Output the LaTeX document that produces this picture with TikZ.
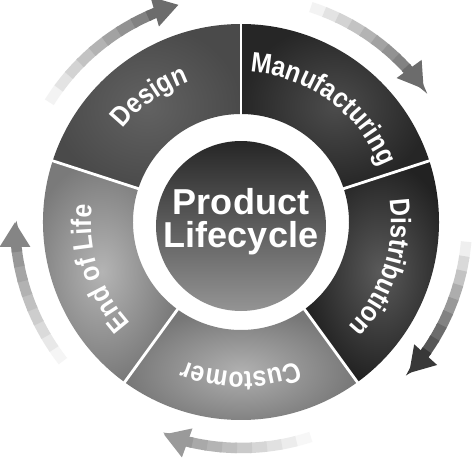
\documentclass[tikz,border=0pt]{standalone}
\usepackage{fontspec}
\setmainfont{Liberation Sans}
\newfontfamily\ringfont{Liberation Sans}[FakeStretch=0.88]
\usetikzlibrary{arrows.meta,decorations.text}

\definecolor{designin}{HTML}{626262}
\definecolor{designout}{HTML}{4A4A4A}
\definecolor{manufin}{HTML}{4C4C4C}
\definecolor{manufout}{HTML}{262626}
\definecolor{distrin}{HTML}{5A5A5A}
\definecolor{distrout}{HTML}{222222}
\definecolor{custin}{HTML}{B0B0B0}
\definecolor{custout}{HTML}{777777}
\definecolor{eolin}{HTML}{B4B4B4}
\definecolor{eolout}{HTML}{7A7A7A}
\definecolor{arrowmid}{HTML}{6C6C6C}
\definecolor{arrowdark}{HTML}{383838}
\definecolor{arrowlight}{HTML}{9A9A9A}
\definecolor{arrowleft}{HTML}{858585}

% one part of the ring: start angle, end angle, inner colour, outer colour
\newcommand{\ringpart}[4]{%
  \path[inner color=#3, outer color=#4] (#1:108) arc[start angle=#1, end angle=#2, radius=108]
    -- (#2:198) arc[start angle=#2, end angle=#1, radius=198] -- cycle;
}
% label running clockwise along the ring
\newcommand{\ringlabel}[3]{%
  \path[decorate, decoration={text along path, text align=center, text color=white,
      text={|\ringfont\bfseries\fontsize{16}{18}\selectfont|#3}}]
    (#1:150) arc[start angle=#1, end angle=#2, radius=150];
}
% faded circular arrow: tail angle, tip angle, colour
\newcommand{\cyclearrow}[3]{%
  \foreach \k in {0,...,7}{%
    \pgfmathsetmacro{\anga}{#1+(#2-#1)*\k/10}%
    \pgfmathsetmacro{\angb}{#1+(#2-#1)*(\k+1.15)/10}%
    \pgfmathtruncatemacro{\shade}{8+\k*11}%
    \draw[arrowshaft, draw=#3!\shade!white] (\anga:226) arc[start angle=\anga, end angle=\angb, radius=226];
  }
  \pgfmathsetmacro{\anga}{#1+(#2-#1)*0.8}%
  \draw[arrowshaft, draw=#3, -{Triangle[width=0.58cm, length=0.5cm]}]
    (\anga:226) arc[start angle=\anga, end angle=#2, radius=226];
}

\begin{document}
\begin{tikzpicture}[x=0.02cm, y=0.02cm,
    arrowshaft/.style={line width=0.21cm},
    divider/.style={white, line width=1.6pt},
    title/.style={text=white, font=\bfseries\fontsize{20.5}{18.7}\selectfont, align=center}]
  \fill[white] (-241,-252) rectangle (233,222);
  \useasboundingbox (-241,-252) rectangle (233,222);

  % ring
  \ringpart{162}{90}{designin}{designout}
  \ringpart{90}{18}{manufin}{manufout}
  \ringpart{18}{-54}{distrin}{distrout}
  \ringpart{-54}{-126}{custin}{custout}
  \ringpart{-126}{-198}{eolin}{eolout}
  \foreach \a in {90,18,-54,-126,162}
    \draw[divider] (\a:104) -- (\a:202);

  \ringlabel{162}{90}{Design}
  \ringlabel{90}{18}{Manufacturing}
  \ringlabel{18}{-54}{Distribution}
  \ringlabel{-54}{-126}{Customer}
  \ringlabel{-126}{-198}{End of Life}

  % centre
  \path[top color=black!85, middle color=black!78, bottom color=black!42] (0,-4) circle[radius=85];
  \node[title] (title) at (0,0) {Product\\Lifecycle};

  % arrows round the ring
  \cyclearrow{148}{106}{arrowmid}
  \cyclearrow{72}{36}{arrowmid}
  \cyclearrow{-5}{-42}{arrowdark}
  \cyclearrow{-72}{-110}{arrowlight}
  \cyclearrow{218}{180}{arrowleft}
\end{tikzpicture}
\end{document}
